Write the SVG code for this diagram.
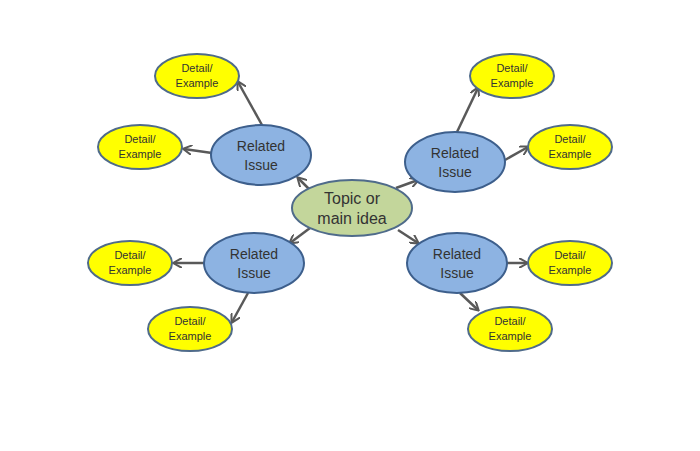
<svg xmlns="http://www.w3.org/2000/svg" width="700" height="451" viewBox="0 0 700 451">
<style>
.c{fill:#c3d69b;stroke:#4f6b8a;stroke-width:2}
.r{fill:#8db3e2;stroke:#3d5f8c;stroke-width:2}
.d{fill:#ffff00;stroke:#4f6b8a;stroke-width:2}
text{font-family:"Liberation Sans",Arial,sans-serif;fill:#333;text-anchor:middle}
.t1{font-size:16px}.t2{font-size:14px}.t3{font-size:11px}
.e line{stroke:#595959;stroke-width:2.5;marker-end:url(#a)}
</style>
<defs><marker id="a" viewBox="0 0 10 10" refX="8" refY="5" markerWidth="4" markerHeight="4" orient="auto"><path d="M0,0L9,5L0,10" fill="none" stroke="#595959" stroke-width="2"/></marker></defs>
<rect width="700" height="451" fill="#fff"/>
<g class="e">
<line x1="310" y1="190" x2="298" y2="178"/>
<line x1="396" y1="188" x2="418" y2="180"/>
<line x1="310" y1="228" x2="290" y2="243"/>
<line x1="398" y1="230" x2="418" y2="243"/>
<line x1="262" y1="125" x2="238" y2="82"/>
<line x1="212" y1="153" x2="184" y2="149"/>
<line x1="457" y1="132" x2="478" y2="88"/>
<line x1="505" y1="160" x2="528" y2="147"/>
<line x1="204" y1="263" x2="174" y2="263"/>
<line x1="248" y1="293" x2="232" y2="322"/>
<line x1="507" y1="263" x2="527" y2="263"/>
<line x1="460" y1="293" x2="478" y2="310"/>
</g>
<g id="topic"><ellipse class="c" cx="352" cy="208" rx="60" ry="28"/><text class="t1" x="352" y="204">Topic or</text><text class="t1" x="352" y="224">main idea</text></g>
<g id="r1"><ellipse class="r" cx="261" cy="155" rx="50" ry="30"/><text class="t2" x="261" y="151">Related</text><text class="t2" x="261" y="170">Issue</text></g>
<g id="r2"><ellipse class="r" cx="455" cy="162" rx="50" ry="30"/><text class="t2" x="455" y="158">Related</text><text class="t2" x="455" y="177">Issue</text></g>
<g id="r3"><ellipse class="r" cx="254" cy="263" rx="50" ry="30"/><text class="t2" x="254" y="259">Related</text><text class="t2" x="254" y="278">Issue</text></g>
<g id="r4"><ellipse class="r" cx="457" cy="263" rx="50" ry="30"/><text class="t2" x="457" y="259">Related</text><text class="t2" x="457" y="278">Issue</text></g>
<g id="d1"><ellipse class="d" cx="197" cy="76" rx="42" ry="22"/><text class="t3" x="197" y="72">Detail/</text><text class="t3" x="197" y="87">Example</text></g>
<g id="d2"><ellipse class="d" cx="140" cy="147" rx="42" ry="22"/><text class="t3" x="140" y="143">Detail/</text><text class="t3" x="140" y="158">Example</text></g>
<g id="d3"><ellipse class="d" cx="512" cy="76" rx="42" ry="22"/><text class="t3" x="512" y="72">Detail/</text><text class="t3" x="512" y="87">Example</text></g>
<g id="d4"><ellipse class="d" cx="570" cy="147" rx="42" ry="22"/><text class="t3" x="570" y="143">Detail/</text><text class="t3" x="570" y="158">Example</text></g>
<g id="d5"><ellipse class="d" cx="130" cy="263" rx="42" ry="22"/><text class="t3" x="130" y="259">Detail/</text><text class="t3" x="130" y="274">Example</text></g>
<g id="d6"><ellipse class="d" cx="190" cy="329" rx="42" ry="22"/><text class="t3" x="190" y="325">Detail/</text><text class="t3" x="190" y="340">Example</text></g>
<g id="d7"><ellipse class="d" cx="570" cy="263" rx="42" ry="22"/><text class="t3" x="570" y="259">Detail/</text><text class="t3" x="570" y="274">Example</text></g>
<g id="d8"><ellipse class="d" cx="510" cy="329" rx="42" ry="22"/><text class="t3" x="510" y="325">Detail/</text><text class="t3" x="510" y="340">Example</text></g>
</svg>
